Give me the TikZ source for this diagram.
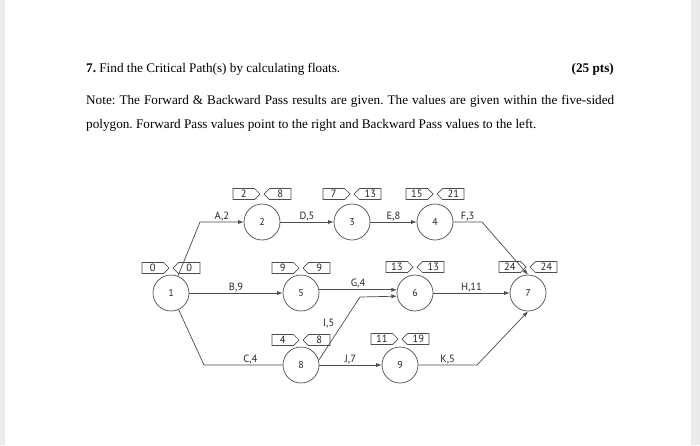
\documentclass[tikz,border=0pt]{standalone}
\usepackage{fontspec}
\setmainfont{Liberation Serif}
\newfontfamily\netfont{PT Sans}
\usetikzlibrary{arrows.meta,shapes.symbols,positioning}
\frenchspacing

\tikzset{
  event/.style={circle,draw=black!70,line width=.7pt,minimum size=36pt,inner sep=0pt,
    text=black!85,font=\netfont\fontsize{10}{10}\selectfont},
  act/.style={draw=black!70,line width=.7pt,-{Latex[length=5.5pt,width=4pt]}},
  dummy/.style={draw=black!70,line width=.7pt},
  fwd/.style={signal,signal to=east,signal pointer angle=90,draw=black!70,line width=.7pt,
    minimum width=27pt,minimum height=11pt,inner sep=0pt,text=black!85,
    font=\netfont\fontsize{10.5}{10.5}\selectfont},
  bwd/.style={fwd,signal to=west},
  lbl/.style={font=\netfont\fontsize{10.5}{10.5}\selectfont,text=black!85,inner sep=1pt},
  qtext/.style={inner sep=0,font=\fontsize{13.2}{24}\selectfont}
}

\begin{document}
\begin{tikzpicture}[x=1pt,y=-1pt]
\useasboundingbox (0,0) rectangle (700,445);
\fill[black!8] (0,0) rectangle (700,445);
\fill[white] (5,0) rectangle (691,445);

% question text
\node[qtext,anchor=base west] (qline) at (86,72)
  {\textbf{7.} Find the Critical Path(s) by calculating floats.};
\node[qtext,anchor=base east] (qpts) at (614,72) {\textbf{(25 pts)}};
\node[qtext,anchor=base west] (noteA) at (86,104)
  {\makebox[528pt][s]{Note: The Forward \& Backward Pass results are given. The values are given within the five-sided}};
\node[qtext,anchor=base west] (noteB) at (86,128)
  {polygon. Forward Pass values point to the right and Backward Pass values to the left.};

% events
\node[event] (n1) at (171,293) {1};
\node[event] (n2) at (262,222) {2};
\node[event] (n3) at (352,222) {3};
\node[event] (n4) at (435,222) {4};
\node[event] (n5) at (301,293) {5};
\node[event] (n6) at (415,293) {6};
\node[event] (n7) at (528,293) {7};
\node[event] (n8) at (301,365) {8};
\node[event] (n9) at (400,365) {9};

% bends
\coordinate (ca) at (200,222);
\coordinate (cc) at (204,365);
\coordinate (cf) at (482,222);
\coordinate (ci) at (360,297);
\coordinate (ck) at (477,365);

% activities
\draw[act] (n1) -- (ca) -- node[lbl,above] {A,2} (n2);
\draw[act] (n1) -- node[lbl,above] {B,9} (n5);
\draw[dummy] (n1) -- (cc) -- node[lbl,above,xshift=7pt] {C,4} (n8);
\draw[act] (n2) -- node[lbl,above] {D,5} (n3);
\draw[act] (n3) -- node[lbl,above] {E,8} (n4);
\draw[act] (n4) -- node[lbl,above] {F,3} (cf) -- (n7.north);
\draw[act] (n5.10) -- node[lbl,above] {G,4} (n6.170);
\draw[act] (n6) -- node[lbl,above] {H,11} (n7);
\draw[act] (n8.15) -- node[lbl,pos=.58,left=7pt] {I,5} (ci) -- (n6.190);
\draw[act] (n8) -- node[lbl,above] {J,7} (n9);
\draw[act] (n9) -- node[lbl,above] {K,5} (ck) -- (n7.south);

% forward / backward pass values
\foreach \ev/\es/\ls/\up in {n1/0/0/25, n2/2/8/28, n3/7/13/28, n4/15/21/28, n5/9/9/25,
  n6/13/13/26, n7/24/24/26, n8/4/8/25, n9/11/19/26}{
  \node[fwd,anchor=east] (es-\ev) at ([xshift=-1.5pt,yshift=\up pt]\ev.center) {\es};
  \node[bwd,anchor=west] (ls-\ev) at ([xshift=1.5pt,yshift=\up pt]\ev.center) {\ls};
}
\end{tikzpicture}
\end{document}
